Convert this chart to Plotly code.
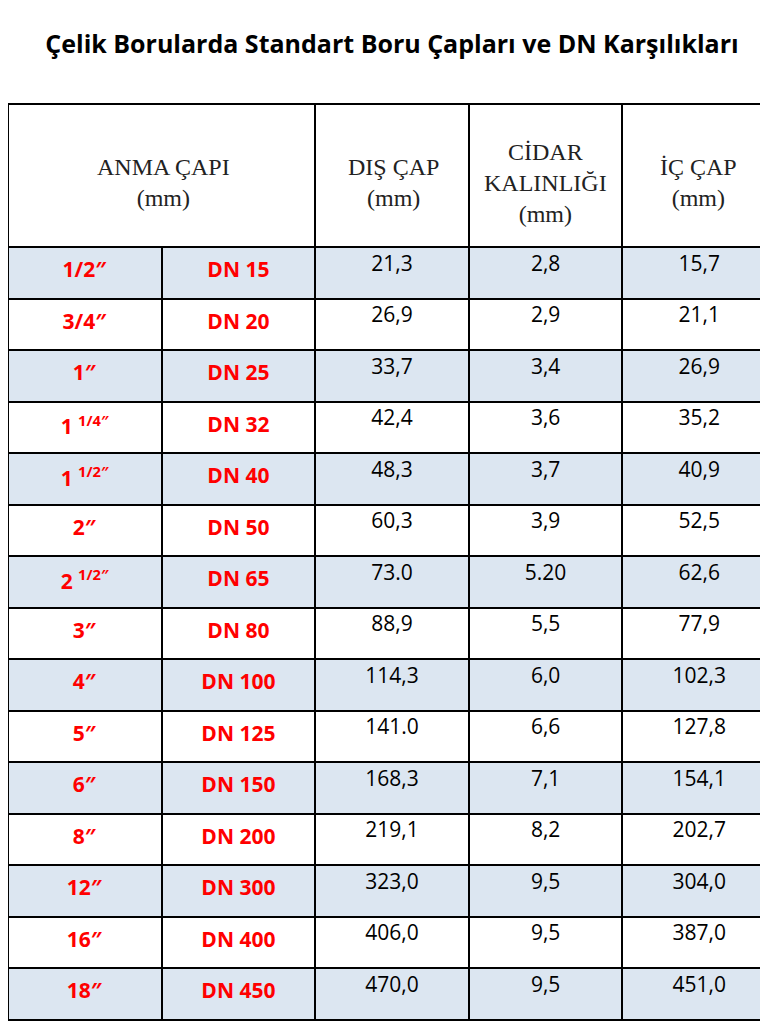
import plotly.graph_objects as go

title = "Çelik Borularda Standart Boru Çapları ve DN Karşılıkları"
headers = ["ANMA ÇAPI<br>(mm)", "DIŞ ÇAP<br>(mm)", "CİDAR<br>KALINLIĞI<br>(mm)", "İÇ ÇAP<br>(mm)"]
header_widths = [2, 1, 1, 1]
inch = ["1/2″", "3/4″", "1″", "1 <sup>1/4″</sup>", "1 <sup>1/2″</sup>", "2″", "2 <sup>1/2″</sup>", "3″",
        "4″", "5″", "6″", "8″", "12″", "16″", "18″"]
dn = ["DN 15", "DN 20", "DN 25", "DN 32", "DN 40", "DN 50", "DN 65", "DN 80", "DN 100",
      "DN 125", "DN 150", "DN 200", "DN 300", "DN 400", "DN 450"]
dis_cap = ["21,3", "26,9", "33,7", "42,4", "48,3", "60,3", "73.0", "88,9", "114,3", "141.0",
           "168,3", "219,1", "323,0", "406,0", "470,0"]
cidar = ["2,8", "2,9", "3,4", "3,6", "3,7", "3,9", "5.20", "5,5", "6,0", "6,6", "7,1", "8,2",
         "9,5", "9,5", "9,5"]
ic_cap = ["15,7", "21,1", "26,9", "35,2", "40,9", "52,5", "62,6", "77,9", "102,3", "127,8",
          "154,1", "202,7", "304,0", "387,0", "451,0"]

W, H = 768, 1024
top_h, hdr_b = 103, 246
row_h = 51.5
off = 7  # plotly table internal offset
xl, xr = 3, 767
dx0, dx1 = (xl - off) / W, (xr - off + 2 * off) / W
dx0 = max(dx0, 0.0)
dx1 = min(dx1, 1.0)

row_fill = ["#dce6f1" if i % 2 == 0 else "white" for i in range(len(inch))]
red = "#ff0000"

fig = go.Figure()
fig.add_trace(go.Table(
    domain=dict(x=[dx0, dx1], y=[1 - (hdr_b + 10) / H, 1 - (top_h - off) / H]),
    columnwidth=header_widths,
    header=dict(values=[""] * 4, height=0, line=dict(width=0), fill=dict(color="rgba(0,0,0,0)")),
    cells=dict(values=[[""] for h in headers], height=hdr_b - top_h,
               fill=dict(color="white"), line=dict(color="black", width=2)),
))
fig.add_trace(go.Table(
    domain=dict(x=[dx0, dx1], y=[0, 1 - (hdr_b - off) / H]),
    columnwidth=[1, 1, 1, 1, 1],
    header=dict(values=[""] * 5, height=0, line=dict(width=0), fill=dict(color="rgba(0,0,0,0)")),
    cells=dict(values=[["<b>%s</b>" % v for v in inch], ["<b>%s</b>" % v for v in dn],
                       dis_cap, cidar, ic_cap],
               height=row_h,
               fill=dict(color=[row_fill] * 5), line=dict(color="black", width=2),
               align="center",
               font=dict(family="Open Sans", size=21,
                         color=[[red] * 15, [red] * 15, ["black"] * 15, ["black"] * 15, ["black"] * 15])),
))
# header labels centered in their (merged) cells
tot = sum(header_widths)
acc = 0
for h, w in zip(headers, header_widths):
    cx = xl + (acc + w / 2) / tot * (xr - xl)
    acc += w
    fig.add_annotation(text=h, x=cx / W, y=1 - (top_h + hdr_b) / 2 / H, xref="paper", yref="paper",
                       xanchor="center", yanchor="middle", align="center", showarrow=False,
                       font=dict(family="Liberation Serif", size=24, color="#222"))
fig.update_layout(
    width=W, height=H, margin=dict(l=0, r=0, t=0, b=0), paper_bgcolor="white",
    title=dict(text="<b>" + title + "</b>", x=0.5, xanchor="center", y=1 - 36 / H, yanchor="middle",
               font=dict(family="Open Sans", size=25, color="black")),
)
fig.write_html("out.html")
